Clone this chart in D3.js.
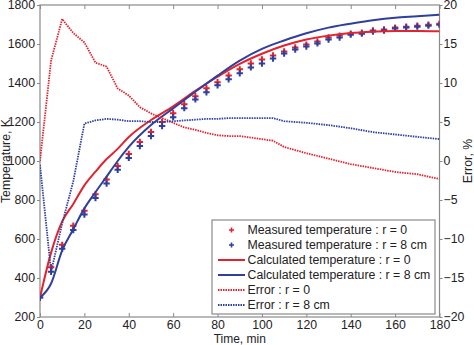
<!DOCTYPE html>
<html><head><meta charset="utf-8">
<script src="https://cdn.jsdelivr.net/npm/d3@7"></script>
<style>
html,body{margin:0;padding:0;background:#fff;}
svg{display:block;font-family:"Liberation Sans",Arial,Helvetica,sans-serif;}
</style></head>
<body>
<svg id="chart" width="474" height="345"></svg>
<script>
// ---- data ----
const timeMeasured = [0,5,10,15,20,25,30,35,40,45,50,55,60,65,70,75,80,85,90,95,100,105,110,115,120,125,130,135,140,145,150,155,160,165,170,175,180];
const measuredR0 = [300,455,570,668,745,830,905,975,1036,1098,1149,1200,1245,1291,1332,1373,1404,1439,1470,1500,1521,1541,1562,1582,1597,1613,1633,1643,1653,1658,1669,1674,1684,1689,1694,1699,1704];
const measuredR8 = [300,432,550,646,726,810,884,955,1016,1077,1128,1179,1225,1271,1316,1352,1388,1419,1450,1480,1500,1526,1551,1572,1587,1603,1623,1633,1648,1653,1664,1669,1679,1684,1689,1694,1699];

const timeCalc = [0,5,10,15,20,25,30,35,40,50,60,70,80,90,100,110,120,130,140,150,160,170,180];
const calcR0 = [300,530,690,780,875,945,1010,1062,1123,1210,1280,1360,1432,1498,1550,1592,1623,1643,1656,1663,1667,1667,1665];
const calcR8 = [300,372,542,650,757,840,920,1000,1072,1184,1270,1355,1438,1515,1575,1618,1655,1684,1704,1722,1735,1742,1750];

const timeError = [0,5,10,15,20,25,30,35,40,45,50,55,60,65,70,75,80,85,90,95,100,105,110,120,130,140,150,160,170,180];
const errorR0 = [0,12.9,18.2,16.4,15.2,12.6,12.1,9.3,8.4,6.9,6.1,5.5,4.9,4.3,4.0,3.6,3.3,3.2,3.2,3.0,2.8,2.6,1.8,1.0,0.3,-0.4,-0.9,-1.4,-1.7,-2.3];
const errorR8 = [-0.5,-14.2,-8.0,-2.6,4.8,5.2,5.4,5.3,5.1,5.1,5.0,5.0,5.1,5.2,5.3,5.4,5.4,5.5,5.5,5.5,5.5,5.5,5.1,4.9,4.6,4.2,3.7,3.4,3.1,2.8];

const xTicks = [0,20,40,60,80,100,120,140,160,180];
const yTicks = [200,400,600,800,1000,1200,1400,1600,1800];
const y2Ticks = [-20,-15,-10,-5,0,5,10,15,20];

const legendLabels = ["Measured temperature : r = 0","Measured temperature : r = 8 cm","Calculated temperature : r = 0","Calculated temperature : r = 8 cm","Error : r = 0","Error : r = 8 cm"];

// ---- layout ----
const L = 40, R = 439.5, T = 5, B = 317;
const RED = "#e3222e", BLUE = "#2e3f9e";
const svg = d3.select("#chart");

const x = d3.scaleLinear().domain([0,180]).range([L,R]);
const y = d3.scaleLinear().domain([200,1800]).range([B,T]);
const y2 = d3.scaleLinear().domain([-20,20]).range([B,T]);

const fs = "12.3px", txt = "#222";
const axisCol = "#8a8a8a";

// frame
svg.append("rect").attr("x",L).attr("y",T).attr("width",R-L).attr("height",B-T)
  .attr("fill","none").attr("stroke",axisCol).attr("stroke-width",1.2);

function styleAxis(g){
  g.select(".domain").remove();
  g.selectAll(".tick line").attr("stroke",axisCol).attr("stroke-width",1);
  g.selectAll(".tick text").attr("fill",txt).style("font-size",fs).style("font-family",'"Liberation Sans",Arial,sans-serif');
}

// bottom axis (ticks inward)
const gx = svg.append("g").attr("transform",`translate(0,${B})`)
  .call(d3.axisBottom(x).tickValues(xTicks).tickFormat(d3.format("d")).tickSizeInner(-4).tickSizeOuter(0).tickPadding(3));
styleAxis(gx);
// top ticks
const gxt = svg.append("g").attr("transform",`translate(0,${T})`)
  .call(d3.axisTop(x).tickValues(xTicks).tickFormat("").tickSizeInner(-4).tickSizeOuter(0));
styleAxis(gxt);
// left axis
const gy = svg.append("g").attr("transform",`translate(${L},0)`)
  .call(d3.axisLeft(y).tickValues(yTicks).tickFormat(d3.format("d")).tickSizeInner(3).tickSizeOuter(0).tickPadding(2));
styleAxis(gy);
// right axis
const gy2 = svg.append("g").attr("transform",`translate(${R},0)`)
  .call(d3.axisRight(y2).tickValues(y2Ticks).tickFormat(d3.format("d")).tickSizeInner(3).tickSizeOuter(0).tickPadding(1));
styleAxis(gy2);

// axis titles
svg.append("text").attr("x",(L+R)/2).attr("y",342.5).attr("text-anchor","middle")
  .style("font-size","12px").attr("fill",txt).text("Time, min");
svg.append("text").attr("transform",`translate(9.5,${(T+B)/2}) rotate(-90)`).attr("text-anchor","middle")
  .style("font-size",fs).attr("fill",txt).text("Temperature, K");
svg.append("text").attr("transform",`translate(472,${(T+B)/2}) rotate(-90)`).attr("text-anchor","middle")
  .style("font-size",fs).attr("fill",txt).text("Error, %");

// clip
svg.append("clipPath").attr("id","clip").append("rect").attr("x",L).attr("y",T).attr("width",R-L).attr("height",B-T);
const plot = svg.append("g").attr("clip-path","url(#clip)");

function plus(g, pts, color, size, sw){
  g.selectAll(null).data(pts).enter().append("path")
    .attr("d",d=>`M${d[0]-size},${d[1]}H${d[0]+size}M${d[0]},${d[1]-size}V${d[1]+size}`)
    .attr("stroke",color).attr("stroke-width",sw).attr("fill","none");
}
plus(plot, timeMeasured.map((t,i)=>[x(t),y(measuredR0[i])]), RED, 3.2, 2);
plus(plot, timeMeasured.map((t,i)=>[x(t),y(measuredR8[i])]), BLUE, 3.2, 2);

const lineT = d3.line().x(d=>x(d[0])).y(d=>y(d[1])).curve(d3.curveMonotoneX);
const lineE = d3.line().x(d=>x(d[0])).y(d=>y2(d[1]));

plot.append("path").datum(timeCalc.map((t,i)=>[t,calcR0[i]])).attr("d",lineT)
  .attr("fill","none").attr("stroke",RED).attr("stroke-width",2);
plot.append("path").datum(timeCalc.map((t,i)=>[t,calcR8[i]])).attr("d",lineT)
  .attr("fill","none").attr("stroke",BLUE).attr("stroke-width",2);
plot.append("path").datum(timeError.map((t,i)=>[t,errorR0[i]])).attr("d",lineE)
  .attr("fill","none").attr("stroke",RED).attr("stroke-width",1.8).attr("stroke-dasharray","1.5,1");
plot.append("path").datum(timeError.map((t,i)=>[t,errorR8[i]])).attr("d",lineE)
  .attr("fill","none").attr("stroke",BLUE).attr("stroke-width",1.8).attr("stroke-dasharray","1.5,1");

// legend
const lg = svg.append("g");
const lx0 = 212, ly0 = 220, lw = 223, lh = 94;
lg.append("rect").attr("x",lx0).attr("y",ly0).attr("width",lw).attr("height",lh)
  .attr("fill","#fff").attr("stroke",axisCol).attr("stroke-width",1.2);
const kinds = [
  {type:"marker",color:RED},{type:"marker",color:BLUE},
  {type:"solid",color:RED},{type:"solid",color:BLUE},
  {type:"dot",color:RED},{type:"dot",color:BLUE}];
legendLabels.forEach((lab,i)=>{
  const cy = 230 + i*15;
  const k = kinds[i];
  if(k.type==="marker"){
    plus(lg, [[231.5,cy]], k.color, 2.5, 1.6);
  } else {
    lg.append("line").attr("x1",218).attr("x2",245).attr("y1",cy).attr("y2",cy)
      .attr("stroke",k.color).attr("stroke-width",k.type==="solid"?2:1.8)
      .attr("stroke-dasharray",k.type==="dot"?"1.5,1":null);
  }
  lg.append("text").attr("x",247.5).attr("y",cy).attr("dy","0.36em")
    .style("font-size",fs).attr("fill",txt).text(lab);
});
</script>
</body></html>
